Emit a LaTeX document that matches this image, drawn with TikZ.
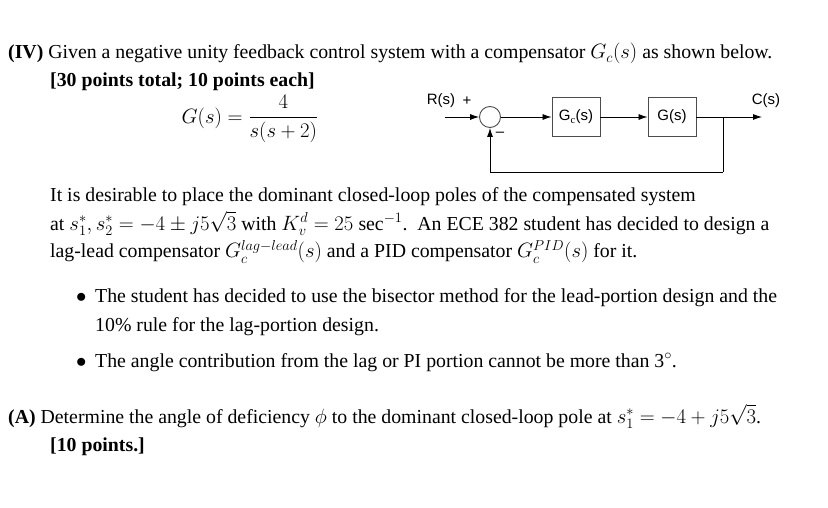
\documentclass[tikz,border=0pt]{standalone}
\usepackage{fontspec}
\usepackage{amsmath}
\setmainfont{Liberation Serif}
\setsansfont{Liberation Sans}
\usetikzlibrary{arrows.meta}
\begin{document}
\begin{tikzpicture}[x=1pt,y=-1pt,
  txt/.style={anchor=base west,inner sep=0pt,font=\fontsize{19.8}{22}\selectfont},
  blk/.style={draw=black!70,line width=0.9pt,minimum width=48pt,minimum height=39pt,inner sep=0pt,font=\sffamily\fontsize{15}{17}\selectfont},
  sig/.style={line width=0.8pt},
  arr/.style={sig,-{Latex[length=9pt,width=6pt]}},
  lbl/.style={inner sep=0pt,font=\sffamily\fontsize{15}{17}\selectfont}]
\useasboundingbox (0,0) rectangle (828,508);
\node[txt] (l1) at (8,59) {\textbf{(IV)} Given a negative unity feedback control system with a compensator $G_c(s)$ as shown below.};
\node[txt] (l2) at (50,87) {\textbf{[30 points total; 10 points each]}};
\node[txt,anchor=center] (eq) at (250,119) {$G(s)=\dfrac{4}{s(s+2)}$};
% block diagram
\node[draw=black!70,line width=0.9pt,circle,minimum size=21pt,inner sep=0pt] (sum) at (490,117) {};
\node[blk] (gc) at (576,117) {G$_\mathrm{c}$(s)};
\node[blk] (g) at (672,117) {G(s)};
\coordinate (in) at (445,117);
\coordinate (br) at (723,117);
\coordinate (out) at (762,117);
\coordinate (fb) at (723,172);
\draw[arr] (in) -- (sum);
\draw[arr] (sum) -- (gc);
\draw[arr] (gc) -- (g);
\draw[sig] (g) -- (br);
\draw[arr] (br) -- (out);
\draw[sig] (br) -- (fb);
\draw[arr] (fb) -| (sum.south);
\node[lbl] (r) at (441,101) {R(s)};
\node[lbl] (p) at (467,101) {+};
\node[lbl] (m) at (500,134) {--};
\node[lbl] (c) at (766,101) {C(s)};
% paragraph
\node[txt] (p1) at (50,202) {It is desirable to place the dominant closed-loop poles of the compensated system};
\node[txt] (p2) at (50,230) {at $s_1^*,s_2^*=-4\pm j5\sqrt{3}$ with $K_v^d=25$ sec$^{-1}$.\ \ An ECE 382 student has decided to design a};
\node[txt] (p3) at (50,258) {lag-lead compensator $G_c^{lag-lead}(s)$ and a PID compensator $G_c^{PID}(s)$ for it.};
\node[txt] (b1) at (76,302) {$\bullet$};
\node[txt] (b1t) at (95,302) {The student has decided to use the bisector method for the lead-portion design and the};
\node[txt] (b1u) at (95,331) {10\% rule for the lag-portion design.};
\node[txt] (b2) at (76,367) {$\bullet$};
\node[txt] (b2t) at (95,367) {The angle contribution from the lag or PI portion cannot be more than 3$^\circ$.};
\node[txt] (a1) at (8,423) {\textbf{(A)} Determine the angle of deficiency $\phi$ to the dominant closed-loop pole at $s_1^*=-4+j5\sqrt{3}$.};
\node[txt] (a2) at (50,451) {\textbf{[10 points.]}};
\end{tikzpicture}
\end{document}
